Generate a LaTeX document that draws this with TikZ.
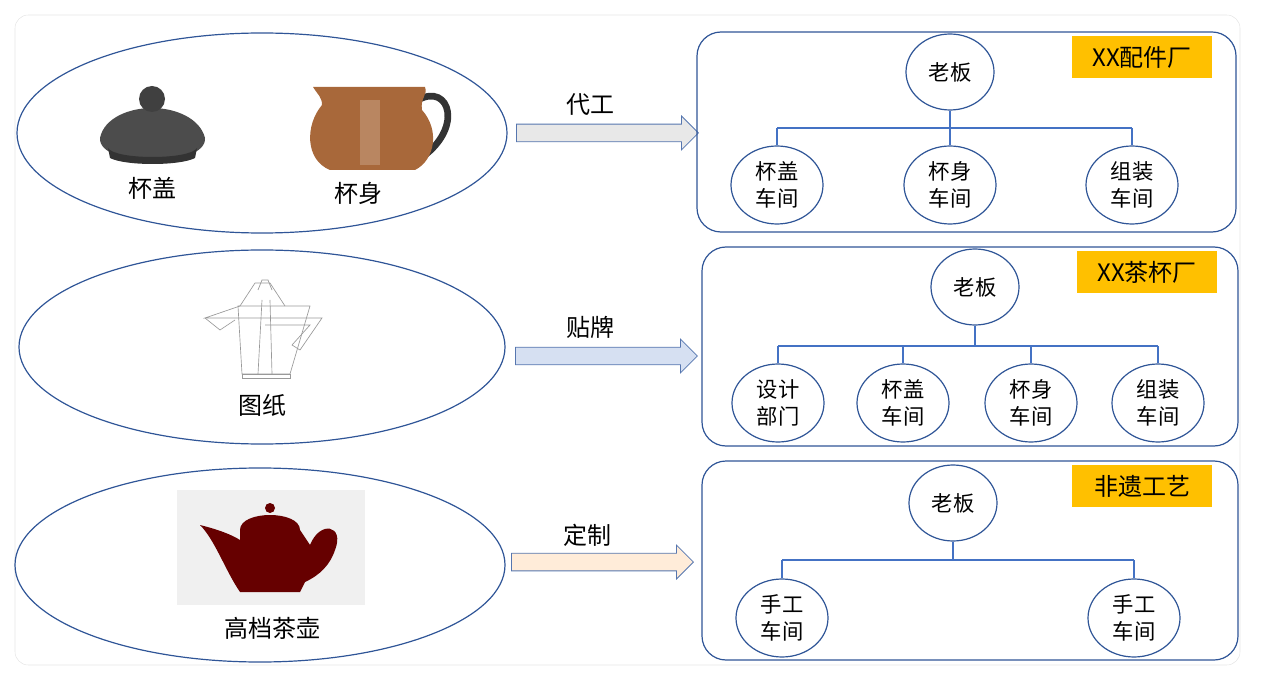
\documentclass[tikz,border=0pt]{standalone}
\usepackage{fontspec}
\setmainfont{Noto Sans CJK SC}
\usetikzlibrary{shapes.geometric,shapes.arrows}
\definecolor{eb}{HTML}{2F5597}
\definecolor{lb}{HTML}{4472C4}
\definecolor{org}{HTML}{FFC000}
\definecolor{cop}{HTML}{A8683A}
\begin{document}
\begin{tikzpicture}[x=0.75pt,y=-0.75pt,
  big/.style={draw=eb,line width=0.9pt,ellipse,minimum width=490*0.75pt,minimum height=200*0.75pt},
  grp/.style={draw=eb,line width=0.9pt,rounded corners=18pt},
  tag/.style={fill=org,font=\fontsize{18}{20}\selectfont,minimum width=140*0.75pt,minimum height=42*0.75pt,inner sep=0pt},
  unit/.style={draw=eb,line width=0.9pt,ellipse,minimum width=92*0.75pt,minimum height=78*0.75pt,inner sep=0pt,align=center,font=\fontsize{16}{20}\selectfont,fill=white},
  lbl/.style={font=\fontsize{18}{20}\selectfont},
  conn/.style={draw=lb,line width=0.8pt},
  barrow/.style={single arrow,draw=lb!70!gray,line width=0.6pt,minimum height=182*0.75pt,minimum width=34*0.75pt,single arrow head extend=3.5pt,inner sep=3.5pt}]
\useasboundingbox (0,0) rectangle (1267,695);
\draw[gray!20,rounded corners=10pt] (15,15) rectangle (1240,665);
% left ellipses
\node[big] (e1) at (262,133) {};
\node[big,minimum height=194*0.75pt,minimum width=486*0.75pt] (e2) at (262,347) {};
\node[big,minimum height=194*0.75pt] (e3) at (260,565) {};
% lid
\fill[black!70] (100,138) .. controls (98,168) and (207,168) .. (205,138) .. controls (200,118) and (175,108) .. (152,108) .. controls (129,108) and (104,118) .. (100,138) -- cycle;
\fill[black!80] (108,148) .. controls (115,160) and (190,160) .. (197,148) -- (195,158) .. controls (180,166) and (125,166) .. (110,158) -- cycle;
\fill[black!75] (152,99) circle (13);
\node[lbl] (t1) at (152,188) {杯盖};
% cup
\draw[black!80,line width=5pt] (418,100) .. controls (450,82) and (465,130) .. (418,160);
\fill[cop] (313,87) -- (425,87) .. controls (428,95) and (420,98) .. (422,110) .. controls (440,130) and (435,160) .. (415,170) -- (330,170) .. controls (305,160) and (305,125) .. (322,105) .. controls (322,97) and (318,95) .. (313,87) -- cycle;
\fill[cop!60!white,opacity=0.5] (360,100) rectangle (380,165);
\node[lbl] (t2) at (358,193) {杯身};
% drawing
\begin{scope}[gray!80,line width=0.5pt]
\draw (240,306) -- (205,318) -- (322,318) -- (300,350) -- (292,345) -- (310,325) -- (265,325);
\draw (205,318) -- (220,330) -- (235,320);
\draw (240,306) -- (255,283) -- (270,283) -- (285,306);
\draw (258,290) -- (262,280) -- (268,280) -- (272,290);
\draw (238,306) -- (310,306) -- (290,374) -- (242,374) -- cycle;
\draw (262,300) -- (258,374); \draw (270,300) -- (272,374);
\draw (242,374) -- (290,374) -- (290,378) -- (242,378) -- cycle;
\end{scope}
\node[lbl] (t3) at (262,405) {图纸};
% teapot
\fill[gray!12] (177,490) rectangle (365,605);
\fill[red!40!black] (240,530) .. controls (240,510) and (300,510) .. (300,530) -- (310,545) .. controls (320,520) and (345,525) .. (335,550) .. controls (330,565) and (320,575) .. (305,582) -- (300,592) -- (240,592) .. controls (225,570) and (215,540) .. (200,525) .. controls (220,530) and (232,535) .. (240,540) -- cycle;
\fill[red!40!black] (270,508) circle (5);
\node[lbl] (t4) at (272,628) {高档茶壶};
% arrows
\node[barrow,fill=gray!18] (a1) at (603,133) {};
\node[barrow,fill=lb!22] (a2) at (602,356) {};
\node[barrow,fill=orange!15] (a3) at (598,562) {};
\node[lbl] (l1) at (590,105) {代工};
\node[lbl] (l2) at (590,327) {贴牌};
\node[lbl] (l3) at (587,535) {定制};
% groups
\draw[grp] (697,32) rectangle (1236,232);
\draw[grp] (702,247) rectangle (1238,446);
\draw[grp] (702,461) rectangle (1238,660);
\node[tag] (g1) at (1142,57) {XX配件厂};
\node[tag] (g2) at (1147,272) {XX茶杯厂};
\node[tag] (g3) at (1142,486) {非遗工艺};
% tree 1
\node[unit,minimum width=88*0.75pt,minimum height=76*0.75pt] (b1) at (950,72) {老板};
\node[unit] (c11) at (777,185) {杯盖\\车间};
\node[unit] (c12) at (950,185) {杯身\\车间};
\node[unit] (c13) at (1132,185) {组装\\车间};
\coordinate (j1) at (950,128);
\draw[conn] (b1) -- (j1);
\draw[conn] (777,128) -- (1132,128);
\draw[conn] (777,128) -- (c11); \draw[conn] (j1) -- (c12); \draw[conn] (1132,128) -- (c13);
% tree 2
\node[unit,minimum width=88*0.75pt,minimum height=76*0.75pt] (b2) at (975,287) {老板};
\node[unit] (c21) at (778,403) {设计\\部门};
\node[unit] (c22) at (903,403) {杯盖\\车间};
\node[unit] (c23) at (1031,403) {杯身\\车间};
\node[unit] (c24) at (1158,403) {组装\\车间};
\coordinate (j2) at (975,346);
\draw[conn] (b2) -- (j2);
\draw[conn] (778,346) -- (1158,346);
\draw[conn] (778,346) -- (c21); \draw[conn] (903,346) -- (c22); \draw[conn] (1031,346) -- (c23); \draw[conn] (1158,346) -- (c24);
% tree 3
\node[unit,minimum width=88*0.75pt,minimum height=76*0.75pt] (b3) at (953,503) {老板};
\node[unit] (c31) at (782,618) {手工\\车间};
\node[unit] (c32) at (1134,618) {手工\\车间};
\coordinate (j3) at (953,560);
\draw[conn] (b3) -- (j3);
\draw[conn] (782,560) -- (1134,560);
\draw[conn] (782,560) -- (c31); \draw[conn] (1134,560) -- (c32);
\end{tikzpicture}
\end{document}
